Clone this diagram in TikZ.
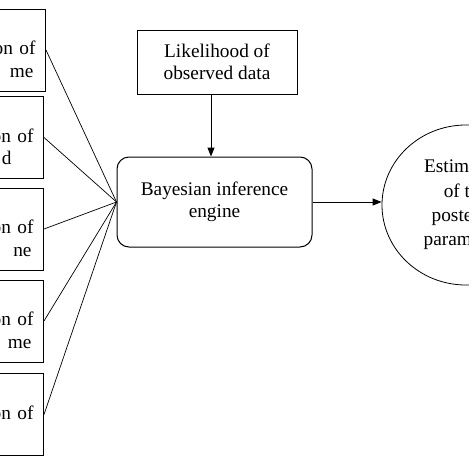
\documentclass[tikz,border=0pt]{standalone}
\usepackage{fontspec}
\setmainfont{Liberation Serif}
\usetikzlibrary{positioning,arrows.meta,shapes.geometric}

\begin{document}
\begin{tikzpicture}[x=1pt,y=-1pt,
  font=\fontsize{19.3}{22.5}\selectfont,
  prior/.style={draw,line width=1pt,text width=100pt,align=right,inner xsep=10pt,inner ysep=0pt,minimum height=82pt,anchor=east},
  lik/.style={draw,line width=1pt,minimum width=160pt,minimum height=64pt,align=center},
  engine/.style={draw,line width=1pt,rounded corners=12pt,minimum width=195pt,minimum height=90pt,align=center},
  estim/.style={draw,ellipse,line width=0.8pt,minimum width=168pt,minimum height=160pt,align=center,inner sep=0pt,
    font=\fontsize{19.3}{24.3}\selectfont},
  feed/.style={line width=0.7pt},
  flow/.style={line width=1pt,-{Triangle[length=9pt,width=7pt]}}]

\useasboundingbox (0,0) rectangle (469,469);
\clip (0,0) rectangle (469,469);

% priors, cut off at the left
\node[prior] (p1) at (46,50) {\strut\\\strut on of\\\strut me\makebox[2pt]{}};
\node[prior] (p2) at (44,137.5) {\strut\\\strut on of\\\strut d\makebox[22pt]{}};
\node[prior] (p3) at (44,229) {\strut\\\strut on of\\\strut ne\makebox[2pt]{}};
\node[prior] (p4) at (44,321) {\strut\\\strut on of\\\strut me\makebox[2pt]{}};
\node[prior] (p5) at (44,414.5) {\strut\\\strut on of\\\strut};

% middle column
\node[lik] (lik) at (217,62) {Likelihood of\\observed data};
\node[engine] (eng) at (214.5,202) {Bayesian inference\\engine};

% result, cut off at the right
\node[estim] (est) at (466,205) {Estimation\\of the\\posterior\\parameters};

\foreach \p in {p1,p2,p3,p4,p5}
  \draw[feed] (\p.east) -- (eng.west);
\draw[flow] ([xshift=-6pt]lik.south) -- ([xshift=-6pt]lik.south |- eng.north);
\draw[flow] (eng.east) -- (eng.east -| est.west);
\end{tikzpicture}
\end{document}
